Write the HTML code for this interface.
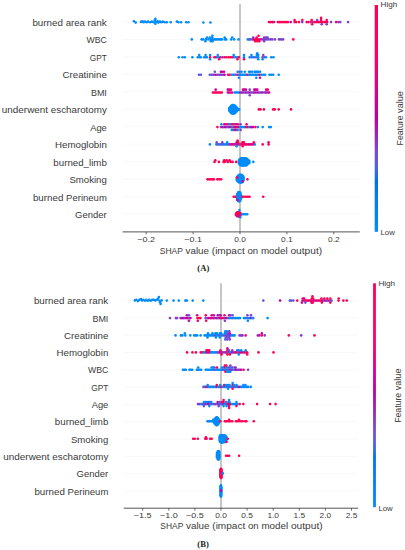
<!DOCTYPE html>
<html><head><meta charset="utf-8"><title>SHAP summary plots</title>
<style>
html,body{margin:0;padding:0;background:#fff;}
body{width:405px;height:550px;overflow:hidden;}
svg{display:block;font-family:"Liberation Sans",sans-serif;}
</style></head><body>
<svg width="405" height="550" viewBox="0 0 405 550">
<defs><linearGradient id="cbg" x1="0" y1="0" x2="0" y2="1"><stop offset="0.000" stop-color="#ff0051"/><stop offset="0.025" stop-color="#ff0053"/><stop offset="0.050" stop-color="#ff0056"/><stop offset="0.075" stop-color="#ff0058"/><stop offset="0.100" stop-color="#ff005a"/><stop offset="0.125" stop-color="#fe005c"/><stop offset="0.150" stop-color="#fd005f"/><stop offset="0.175" stop-color="#fc0061"/><stop offset="0.200" stop-color="#fb0063"/><stop offset="0.225" stop-color="#f90066"/><stop offset="0.250" stop-color="#f7006b"/><stop offset="0.275" stop-color="#f20071"/><stop offset="0.300" stop-color="#ec0078"/><stop offset="0.325" stop-color="#e6007f"/><stop offset="0.350" stop-color="#df0086"/><stop offset="0.375" stop-color="#d8008d"/><stop offset="0.400" stop-color="#d00092"/><stop offset="0.425" stop-color="#ca0097"/><stop offset="0.450" stop-color="#c4009a"/><stop offset="0.475" stop-color="#bd009e"/><stop offset="0.500" stop-color="#b703a2"/><stop offset="0.525" stop-color="#b00fa5"/><stop offset="0.550" stop-color="#a41caa"/><stop offset="0.575" stop-color="#9828b0"/><stop offset="0.600" stop-color="#9035bb"/><stop offset="0.625" stop-color="#8641c4"/><stop offset="0.650" stop-color="#7a4bce"/><stop offset="0.675" stop-color="#6d54d6"/><stop offset="0.700" stop-color="#5c5ddd"/><stop offset="0.725" stop-color="#4764e4"/><stop offset="0.750" stop-color="#2c6be9"/><stop offset="0.775" stop-color="#0070ed"/><stop offset="0.800" stop-color="#0074f0"/><stop offset="0.825" stop-color="#0077f2"/><stop offset="0.850" stop-color="#007bf4"/><stop offset="0.875" stop-color="#007df6"/><stop offset="0.900" stop-color="#0080f7"/><stop offset="0.925" stop-color="#0083f8"/><stop offset="0.950" stop-color="#0085f9"/><stop offset="0.975" stop-color="#0088fa"/><stop offset="1.000" stop-color="#008bfb"/></linearGradient></defs>
<rect width="405" height="550" fill="#fff"/>
<line x1="122.5" y1="22.00" x2="359.8" y2="22.00" stroke="#f3f3f3" stroke-width="0.6"/>
<line x1="122.5" y1="39.45" x2="359.8" y2="39.45" stroke="#f3f3f3" stroke-width="0.6"/>
<line x1="122.5" y1="56.90" x2="359.8" y2="56.90" stroke="#f3f3f3" stroke-width="0.6"/>
<line x1="122.5" y1="74.35" x2="359.8" y2="74.35" stroke="#f3f3f3" stroke-width="0.6"/>
<line x1="122.5" y1="91.80" x2="359.8" y2="91.80" stroke="#f3f3f3" stroke-width="0.6"/>
<line x1="122.5" y1="109.25" x2="359.8" y2="109.25" stroke="#f3f3f3" stroke-width="0.6"/>
<line x1="122.5" y1="126.70" x2="359.8" y2="126.70" stroke="#f3f3f3" stroke-width="0.6"/>
<line x1="122.5" y1="144.15" x2="359.8" y2="144.15" stroke="#f3f3f3" stroke-width="0.6"/>
<line x1="122.5" y1="161.60" x2="359.8" y2="161.60" stroke="#f3f3f3" stroke-width="0.6"/>
<line x1="122.5" y1="179.05" x2="359.8" y2="179.05" stroke="#f3f3f3" stroke-width="0.6"/>
<line x1="122.5" y1="196.50" x2="359.8" y2="196.50" stroke="#f3f3f3" stroke-width="0.6"/>
<line x1="122.5" y1="213.95" x2="359.8" y2="213.95" stroke="#f3f3f3" stroke-width="0.6"/>
<line x1="240.00" y1="4.00" x2="240.00" y2="231.90" stroke="#a0a0a0" stroke-width="1.2"/>
<g font-size="9.11" fill="#3a3a3a"><text x="32.42" y="26.00" textLength="30.49" lengthAdjust="spacingAndGlyphs">burned</text><text x="65.65" y="26.00" textLength="19.18" lengthAdjust="spacingAndGlyphs">area</text><text x="87.56" y="26.00" textLength="19.24" lengthAdjust="spacingAndGlyphs">rank</text></g>
<g font-size="9.11" fill="#3a3a3a"><text x="86.54" y="43.45" textLength="20.26" lengthAdjust="spacingAndGlyphs">WBC</text></g>
<g font-size="9.11" fill="#3a3a3a"><text x="89.70" y="60.90" textLength="17.10" lengthAdjust="spacingAndGlyphs">GPT</text></g>
<g font-size="9.11" fill="#3a3a3a"><text x="62.54" y="78.35" textLength="44.26" lengthAdjust="spacingAndGlyphs">Creatinine</text></g>
<g font-size="9.11" fill="#3a3a3a"><text x="90.94" y="95.80" textLength="15.86" lengthAdjust="spacingAndGlyphs">BMI</text></g>
<g font-size="9.11" fill="#3a3a3a"><text x="1.80" y="113.25" textLength="46.33" lengthAdjust="spacingAndGlyphs">underwent</text><text x="50.87" y="113.25" textLength="55.93" lengthAdjust="spacingAndGlyphs">escharotomy</text></g>
<g font-size="9.11" fill="#3a3a3a"><text x="90.17" y="130.70" textLength="16.63" lengthAdjust="spacingAndGlyphs">Age</text></g>
<g font-size="9.11" fill="#3a3a3a"><text x="54.99" y="148.15" textLength="51.81" lengthAdjust="spacingAndGlyphs">Hemoglobin</text></g>
<g font-size="9.11" fill="#3a3a3a"><text x="53.39" y="165.60" textLength="53.41" lengthAdjust="spacingAndGlyphs">burned_limb</text></g>
<g font-size="9.11" fill="#3a3a3a"><text x="69.42" y="183.05" textLength="37.38" lengthAdjust="spacingAndGlyphs">Smoking</text></g>
<g font-size="9.11" fill="#3a3a3a"><text x="32.91" y="200.50" textLength="30.49" lengthAdjust="spacingAndGlyphs">burned</text><text x="66.13" y="200.50" textLength="40.67" lengthAdjust="spacingAndGlyphs">Perineum</text></g>
<g font-size="9.11" fill="#3a3a3a"><text x="75.11" y="217.95" textLength="31.69" lengthAdjust="spacingAndGlyphs">Gender</text></g>
<line x1="122.50" y1="231.90" x2="359.80" y2="231.90" stroke="#555555" stroke-width="1"/>
<line x1="146.20" y1="231.90" x2="146.20" y2="234.30" stroke="#444444" stroke-width="0.8"/>
<g font-size="7.74" fill="#3a3a3a"><text x="137.34" y="241.80" textLength="17.73" lengthAdjust="spacingAndGlyphs">−0.2</text></g>
<line x1="193.10" y1="231.90" x2="193.10" y2="234.30" stroke="#444444" stroke-width="0.8"/>
<g font-size="7.74" fill="#3a3a3a"><text x="184.24" y="241.80" textLength="17.73" lengthAdjust="spacingAndGlyphs">−0.1</text></g>
<line x1="240.00" y1="231.90" x2="240.00" y2="234.30" stroke="#444444" stroke-width="0.8"/>
<g font-size="7.74" fill="#3a3a3a"><text x="234.20" y="241.80" textLength="11.61" lengthAdjust="spacingAndGlyphs">0.0</text></g>
<line x1="286.90" y1="231.90" x2="286.90" y2="234.30" stroke="#444444" stroke-width="0.8"/>
<g font-size="7.74" fill="#3a3a3a"><text x="281.10" y="241.80" textLength="11.61" lengthAdjust="spacingAndGlyphs">0.1</text></g>
<line x1="333.80" y1="231.90" x2="333.80" y2="234.30" stroke="#444444" stroke-width="0.8"/>
<g font-size="7.74" fill="#3a3a3a"><text x="328.00" y="241.80" textLength="11.61" lengthAdjust="spacingAndGlyphs">0.2</text></g>
<g font-size="9.11" fill="#3a3a3a"><text x="159.84" y="253.90" textLength="22.99" lengthAdjust="spacingAndGlyphs">SHAP</text><text x="185.57" y="253.90" textLength="23.49" lengthAdjust="spacingAndGlyphs">value</text><text x="211.79" y="253.90" textLength="32.95" lengthAdjust="spacingAndGlyphs">(impact</text><text x="247.48" y="253.90" textLength="10.71" lengthAdjust="spacingAndGlyphs">on</text><text x="260.93" y="253.90" textLength="26.78" lengthAdjust="spacingAndGlyphs">model</text><text x="290.44" y="253.90" textLength="31.72" lengthAdjust="spacingAndGlyphs">output)</text></g>
<text x="203.30" y="271.40" font-family="Liberation Serif" font-weight="bold" font-size="8.6" text-anchor="middle" fill="#222">(A)</text>
<rect x="374.70" y="5.00" width="3.30" height="226.80" fill="url(#cbg)"/>
<g font-size="7.74" fill="#3a3a3a"><text x="380.50" y="7.30" textLength="16.78" lengthAdjust="spacingAndGlyphs">High</text></g>
<g font-size="7.74" fill="#3a3a3a"><text x="380.50" y="235.30" textLength="14.38" lengthAdjust="spacingAndGlyphs">Low</text></g>
<g font-size="8.42" fill="#3a3a3a" transform="translate(403.30 118.30) rotate(-90)"><text x="-27.14" y="0.00" textLength="30.04" lengthAdjust="spacingAndGlyphs">Feature</text><text x="5.43" y="0.00" textLength="21.72" lengthAdjust="spacingAndGlyphs">value</text></g>
<line x1="123.7" y1="300.60" x2="358.1" y2="300.60" stroke="#f3f3f3" stroke-width="0.6"/>
<line x1="123.7" y1="317.90" x2="358.1" y2="317.90" stroke="#f3f3f3" stroke-width="0.6"/>
<line x1="123.7" y1="335.20" x2="358.1" y2="335.20" stroke="#f3f3f3" stroke-width="0.6"/>
<line x1="123.7" y1="352.50" x2="358.1" y2="352.50" stroke="#f3f3f3" stroke-width="0.6"/>
<line x1="123.7" y1="369.80" x2="358.1" y2="369.80" stroke="#f3f3f3" stroke-width="0.6"/>
<line x1="123.7" y1="387.10" x2="358.1" y2="387.10" stroke="#f3f3f3" stroke-width="0.6"/>
<line x1="123.7" y1="404.40" x2="358.1" y2="404.40" stroke="#f3f3f3" stroke-width="0.6"/>
<line x1="123.7" y1="421.70" x2="358.1" y2="421.70" stroke="#f3f3f3" stroke-width="0.6"/>
<line x1="123.7" y1="439.00" x2="358.1" y2="439.00" stroke="#f3f3f3" stroke-width="0.6"/>
<line x1="123.7" y1="456.30" x2="358.1" y2="456.30" stroke="#f3f3f3" stroke-width="0.6"/>
<line x1="123.7" y1="473.60" x2="358.1" y2="473.60" stroke="#f3f3f3" stroke-width="0.6"/>
<line x1="123.7" y1="490.90" x2="358.1" y2="490.90" stroke="#f3f3f3" stroke-width="0.6"/>
<line x1="221.00" y1="283.30" x2="221.00" y2="508.20" stroke="#a0a0a0" stroke-width="1.2"/>
<g font-size="9.11" fill="#3a3a3a"><text x="33.92" y="304.20" textLength="30.49" lengthAdjust="spacingAndGlyphs">burned</text><text x="67.15" y="304.20" textLength="19.18" lengthAdjust="spacingAndGlyphs">area</text><text x="89.06" y="304.20" textLength="19.24" lengthAdjust="spacingAndGlyphs">rank</text></g>
<g font-size="9.11" fill="#3a3a3a"><text x="92.44" y="321.50" textLength="15.86" lengthAdjust="spacingAndGlyphs">BMI</text></g>
<g font-size="9.11" fill="#3a3a3a"><text x="64.04" y="338.80" textLength="44.26" lengthAdjust="spacingAndGlyphs">Creatinine</text></g>
<g font-size="9.11" fill="#3a3a3a"><text x="56.49" y="356.10" textLength="51.81" lengthAdjust="spacingAndGlyphs">Hemoglobin</text></g>
<g font-size="9.11" fill="#3a3a3a"><text x="88.04" y="373.40" textLength="20.26" lengthAdjust="spacingAndGlyphs">WBC</text></g>
<g font-size="9.11" fill="#3a3a3a"><text x="91.20" y="390.70" textLength="17.10" lengthAdjust="spacingAndGlyphs">GPT</text></g>
<g font-size="9.11" fill="#3a3a3a"><text x="91.67" y="408.00" textLength="16.63" lengthAdjust="spacingAndGlyphs">Age</text></g>
<g font-size="9.11" fill="#3a3a3a"><text x="54.89" y="425.30" textLength="53.41" lengthAdjust="spacingAndGlyphs">burned_limb</text></g>
<g font-size="9.11" fill="#3a3a3a"><text x="70.92" y="442.60" textLength="37.38" lengthAdjust="spacingAndGlyphs">Smoking</text></g>
<g font-size="9.11" fill="#3a3a3a"><text x="3.30" y="459.90" textLength="46.33" lengthAdjust="spacingAndGlyphs">underwent</text><text x="52.37" y="459.90" textLength="55.93" lengthAdjust="spacingAndGlyphs">escharotomy</text></g>
<g font-size="9.11" fill="#3a3a3a"><text x="76.61" y="477.20" textLength="31.69" lengthAdjust="spacingAndGlyphs">Gender</text></g>
<g font-size="9.11" fill="#3a3a3a"><text x="34.41" y="494.50" textLength="30.49" lengthAdjust="spacingAndGlyphs">burned</text><text x="67.63" y="494.50" textLength="40.67" lengthAdjust="spacingAndGlyphs">Perineum</text></g>
<line x1="123.70" y1="508.20" x2="358.10" y2="508.20" stroke="#555555" stroke-width="1"/>
<line x1="142.70" y1="508.20" x2="142.70" y2="510.60" stroke="#444444" stroke-width="0.8"/>
<g font-size="7.74" fill="#3a3a3a"><text x="133.84" y="518.30" textLength="17.73" lengthAdjust="spacingAndGlyphs">−1.5</text></g>
<line x1="168.80" y1="508.20" x2="168.80" y2="510.60" stroke="#444444" stroke-width="0.8"/>
<g font-size="7.74" fill="#3a3a3a"><text x="159.94" y="518.30" textLength="17.73" lengthAdjust="spacingAndGlyphs">−1.0</text></g>
<line x1="194.90" y1="508.20" x2="194.90" y2="510.60" stroke="#444444" stroke-width="0.8"/>
<g font-size="7.74" fill="#3a3a3a"><text x="186.04" y="518.30" textLength="17.73" lengthAdjust="spacingAndGlyphs">−0.5</text></g>
<line x1="221.00" y1="508.20" x2="221.00" y2="510.60" stroke="#444444" stroke-width="0.8"/>
<g font-size="7.74" fill="#3a3a3a"><text x="215.20" y="518.30" textLength="11.61" lengthAdjust="spacingAndGlyphs">0.0</text></g>
<line x1="247.10" y1="508.20" x2="247.10" y2="510.60" stroke="#444444" stroke-width="0.8"/>
<g font-size="7.74" fill="#3a3a3a"><text x="241.30" y="518.30" textLength="11.61" lengthAdjust="spacingAndGlyphs">0.5</text></g>
<line x1="273.20" y1="508.20" x2="273.20" y2="510.60" stroke="#444444" stroke-width="0.8"/>
<g font-size="7.74" fill="#3a3a3a"><text x="267.40" y="518.30" textLength="11.61" lengthAdjust="spacingAndGlyphs">1.0</text></g>
<line x1="299.30" y1="508.20" x2="299.30" y2="510.60" stroke="#444444" stroke-width="0.8"/>
<g font-size="7.74" fill="#3a3a3a"><text x="293.50" y="518.30" textLength="11.61" lengthAdjust="spacingAndGlyphs">1.5</text></g>
<line x1="325.40" y1="508.20" x2="325.40" y2="510.60" stroke="#444444" stroke-width="0.8"/>
<g font-size="7.74" fill="#3a3a3a"><text x="319.60" y="518.30" textLength="11.61" lengthAdjust="spacingAndGlyphs">2.0</text></g>
<line x1="351.50" y1="508.20" x2="351.50" y2="510.60" stroke="#444444" stroke-width="0.8"/>
<g font-size="7.74" fill="#3a3a3a"><text x="345.70" y="518.30" textLength="11.61" lengthAdjust="spacingAndGlyphs">2.5</text></g>
<g font-size="9.11" fill="#3a3a3a"><text x="160.34" y="528.80" textLength="22.99" lengthAdjust="spacingAndGlyphs">SHAP</text><text x="186.07" y="528.80" textLength="23.49" lengthAdjust="spacingAndGlyphs">value</text><text x="212.29" y="528.80" textLength="32.95" lengthAdjust="spacingAndGlyphs">(impact</text><text x="247.98" y="528.80" textLength="10.71" lengthAdjust="spacingAndGlyphs">on</text><text x="261.43" y="528.80" textLength="26.78" lengthAdjust="spacingAndGlyphs">model</text><text x="290.94" y="528.80" textLength="31.72" lengthAdjust="spacingAndGlyphs">output)</text></g>
<text x="203.10" y="547.00" font-family="Liberation Serif" font-weight="bold" font-size="8.6" text-anchor="middle" fill="#222">(B)</text>
<rect x="373.10" y="283.30" width="2.80" height="223.90" fill="url(#cbg)"/>
<g font-size="7.74" fill="#3a3a3a"><text x="378.40" y="286.10" textLength="16.78" lengthAdjust="spacingAndGlyphs">High</text></g>
<g font-size="7.74" fill="#3a3a3a"><text x="378.40" y="510.70" textLength="14.38" lengthAdjust="spacingAndGlyphs">Low</text></g>
<g font-size="8.42" fill="#3a3a3a" transform="translate(401.30 395.70) rotate(-90)"><text x="-27.14" y="0.00" textLength="30.04" lengthAdjust="spacingAndGlyphs">Feature</text><text x="5.43" y="0.00" textLength="21.72" lengthAdjust="spacingAndGlyphs">value</text></g>
<g stroke-width="2.60" stroke-linecap="round"><line x1="229.30" y1="108.10" x2="229.30" y2="110.70" stroke="#008bfb"/><line x1="230.30" y1="106.70" x2="230.30" y2="112.10" stroke="#008bfb"/><line x1="231.30" y1="105.70" x2="231.30" y2="113.10" stroke="#008bfb"/><line x1="232.30" y1="105.10" x2="232.30" y2="113.70" stroke="#008bfb"/><line x1="233.30" y1="105.00" x2="233.30" y2="113.80" stroke="#008bfb"/><line x1="234.30" y1="105.40" x2="234.30" y2="113.40" stroke="#008bfb"/><line x1="235.30" y1="106.10" x2="235.30" y2="112.70" stroke="#008bfb"/><line x1="236.30" y1="107.10" x2="236.30" y2="111.70" stroke="#008bfb"/><line x1="237.20" y1="108.30" x2="237.20" y2="110.50" stroke="#008bfb"/><line x1="238.20" y1="109.10" x2="238.20" y2="109.70" stroke="#008bfb"/><line x1="239.00" y1="109.20" x2="239.00" y2="109.60" stroke="#008bfb"/><line x1="239.00" y1="160.40" x2="239.00" y2="163.40" stroke="#008bfb"/><line x1="239.80" y1="159.20" x2="239.80" y2="164.60" stroke="#008bfb"/><line x1="240.60" y1="158.60" x2="240.60" y2="165.20" stroke="#008bfb"/><line x1="241.50" y1="158.40" x2="241.50" y2="165.40" stroke="#008bfb"/><line x1="242.50" y1="158.30" x2="242.50" y2="165.50" stroke="#008bfb"/><line x1="243.50" y1="158.30" x2="243.50" y2="165.50" stroke="#008bfb"/><line x1="244.50" y1="158.30" x2="244.50" y2="165.50" stroke="#008bfb"/><line x1="245.50" y1="158.40" x2="245.50" y2="165.40" stroke="#008bfb"/><line x1="246.50" y1="158.60" x2="246.50" y2="165.20" stroke="#008bfb"/><line x1="247.40" y1="159.20" x2="247.40" y2="164.60" stroke="#008bfb"/><line x1="248.30" y1="160.30" x2="248.30" y2="163.50" stroke="#008bfb"/><line x1="249.30" y1="160.80" x2="249.30" y2="163.00" stroke="#008bfb"/><line x1="236.80" y1="177.40" x2="236.80" y2="180.00" stroke="#008bfb"/><line x1="237.60" y1="176.20" x2="237.60" y2="181.20" stroke="#008bfb"/><line x1="238.50" y1="175.40" x2="238.50" y2="182.00" stroke="#008bfb"/><line x1="239.40" y1="174.90" x2="239.40" y2="182.50" stroke="#008bfb"/><line x1="240.30" y1="174.80" x2="240.30" y2="182.60" stroke="#008bfb"/><line x1="241.20" y1="174.90" x2="241.20" y2="182.50" stroke="#008bfb"/><line x1="242.10" y1="175.20" x2="242.10" y2="182.20" stroke="#008bfb"/><line x1="242.90" y1="176.00" x2="242.90" y2="181.40" stroke="#008bfb"/><line x1="243.50" y1="177.20" x2="243.50" y2="180.20" stroke="#008bfb"/><line x1="237.20" y1="194.00" x2="237.20" y2="199.40" stroke="#008bfb"/><line x1="238.20" y1="192.40" x2="238.20" y2="201.00" stroke="#008bfb"/><line x1="239.20" y1="192.00" x2="239.20" y2="201.40" stroke="#008bfb"/><line x1="240.30" y1="192.60" x2="240.30" y2="200.80" stroke="#008bfb"/><line x1="241.00" y1="195.00" x2="241.00" y2="198.40" stroke="#008bfb"/><line x1="236.00" y1="213.60" x2="236.00" y2="215.00" stroke="#ff0055"/><line x1="236.90" y1="212.60" x2="236.90" y2="216.00" stroke="#ff0055"/><line x1="237.80" y1="212.40" x2="237.80" y2="216.20" stroke="#ff0055"/><line x1="238.70" y1="212.20" x2="238.70" y2="216.40" stroke="#ff0055"/><line x1="239.60" y1="212.60" x2="239.60" y2="216.00" stroke="#ff0055"/><line x1="240.40" y1="213.20" x2="240.40" y2="215.40" stroke="#ff0055"/><line x1="213.80" y1="420.40" x2="213.80" y2="422.20" stroke="#008bfb"/><line x1="214.60" y1="419.40" x2="214.60" y2="423.20" stroke="#008bfb"/><line x1="215.40" y1="418.40" x2="215.40" y2="424.20" stroke="#008bfb"/><line x1="216.20" y1="417.60" x2="216.20" y2="425.00" stroke="#008bfb"/><line x1="217.00" y1="417.30" x2="217.00" y2="425.30" stroke="#008bfb"/><line x1="217.80" y1="418.00" x2="217.80" y2="424.60" stroke="#008bfb"/><line x1="218.60" y1="419.20" x2="218.60" y2="423.40" stroke="#008bfb"/><line x1="219.30" y1="420.60" x2="219.30" y2="422.00" stroke="#008bfb"/><line x1="219.60" y1="436.60" x2="219.60" y2="440.80" stroke="#008bfb"/><line x1="220.30" y1="435.40" x2="220.30" y2="442.00" stroke="#008bfb"/><line x1="221.10" y1="435.00" x2="221.10" y2="442.40" stroke="#008bfb"/><line x1="222.00" y1="435.00" x2="222.00" y2="442.40" stroke="#008bfb"/><line x1="223.00" y1="435.20" x2="223.00" y2="442.20" stroke="#008bfb"/><line x1="224.00" y1="435.30" x2="224.00" y2="442.10" stroke="#008bfb"/><line x1="225.00" y1="435.50" x2="225.00" y2="441.90" stroke="#008bfb"/><line x1="225.80" y1="436.20" x2="225.80" y2="441.20" stroke="#008bfb"/><line x1="226.30" y1="437.20" x2="226.30" y2="440.20" stroke="#008bfb"/><line x1="217.00" y1="453.10" x2="217.00" y2="457.50" stroke="#008bfb"/><line x1="217.80" y1="451.30" x2="217.80" y2="459.30" stroke="#008bfb"/><line x1="218.60" y1="451.00" x2="218.60" y2="459.60" stroke="#008bfb"/><line x1="219.40" y1="452.00" x2="219.40" y2="458.60" stroke="#008bfb"/><line x1="220.40" y1="469.70" x2="220.40" y2="477.10" stroke="#ff0055"/><line x1="221.00" y1="468.70" x2="221.00" y2="478.10" stroke="#ff0055"/><line x1="221.50" y1="469.50" x2="221.50" y2="477.30" stroke="#ff0055"/><line x1="220.50" y1="486.20" x2="220.50" y2="495.60" stroke="#008bfb"/><line x1="221.00" y1="485.20" x2="221.00" y2="496.60" stroke="#008bfb"/><line x1="221.30" y1="487.20" x2="221.30" y2="494.60" stroke="#008bfb"/></g>
<g><circle cx="133.90" cy="21.20" r="1.30" fill="#008bfb"/><circle cx="135.70" cy="22.60" r="1.30" fill="#008bfb"/><circle cx="141.00" cy="21.90" r="1.30" fill="#008bfb"/><circle cx="142.50" cy="21.20" r="1.30" fill="#008bfb"/><circle cx="143.60" cy="22.20" r="1.30" fill="#008bfb"/><circle cx="145.00" cy="21.60" r="1.30" fill="#008bfb"/><circle cx="146.50" cy="22.20" r="1.30" fill="#008bfb"/><circle cx="148.00" cy="21.60" r="1.30" fill="#008bfb"/><circle cx="150.20" cy="22.20" r="1.30" fill="#008bfb"/><circle cx="151.70" cy="21.60" r="1.30" fill="#008bfb"/><circle cx="153.50" cy="22.20" r="1.30" fill="#008bfb"/><circle cx="154.70" cy="20.40" r="1.30" fill="#008bfb"/><circle cx="155.40" cy="18.90" r="1.30" fill="#008bfb"/><circle cx="155.40" cy="23.70" r="1.30" fill="#008bfb"/><circle cx="156.10" cy="21.90" r="1.30" fill="#008bfb"/><circle cx="157.60" cy="21.20" r="1.30" fill="#008bfb"/><circle cx="158.40" cy="22.60" r="1.30" fill="#008bfb"/><circle cx="159.90" cy="21.60" r="1.30" fill="#008bfb"/><circle cx="161.30" cy="22.20" r="1.30" fill="#008bfb"/><circle cx="162.80" cy="21.60" r="1.30" fill="#008bfb"/><circle cx="164.70" cy="22.20" r="1.30" fill="#008bfb"/><circle cx="166.80" cy="22.20" r="1.30" fill="#008bfb"/><circle cx="170.70" cy="22.20" r="1.30" fill="#008bfb"/><circle cx="176.90" cy="21.60" r="1.30" fill="#008bfb"/><circle cx="178.40" cy="22.20" r="1.30" fill="#008bfb"/><circle cx="181.10" cy="22.20" r="1.30" fill="#008bfb"/><circle cx="186.20" cy="22.20" r="1.30" fill="#008bfb"/><circle cx="188.40" cy="22.20" r="1.30" fill="#008bfb"/><circle cx="203.40" cy="22.50" r="1.30" fill="#008bfb"/><circle cx="210.40" cy="22.50" r="1.30" fill="#008bfb"/><circle cx="269.00" cy="22.10" r="1.30" fill="#ff0055"/><circle cx="270.70" cy="22.10" r="1.30" fill="#ff0055"/><circle cx="272.30" cy="22.10" r="1.30" fill="#cc009c"/><circle cx="274.00" cy="22.10" r="1.30" fill="#ff0055"/><circle cx="277.90" cy="22.10" r="1.30" fill="#ff0055"/><circle cx="279.60" cy="22.10" r="1.30" fill="#ff0055"/><circle cx="281.20" cy="22.10" r="1.30" fill="#ff0055"/><circle cx="282.90" cy="22.10" r="1.30" fill="#ff0055"/><circle cx="284.60" cy="22.10" r="1.30" fill="#ff0055"/><circle cx="286.20" cy="22.10" r="1.30" fill="#ff0055"/><circle cx="287.90" cy="22.10" r="1.30" fill="#ff0055"/><circle cx="290.70" cy="22.10" r="1.30" fill="#cc009c"/><circle cx="294.60" cy="22.10" r="1.30" fill="#ff0055"/><circle cx="296.20" cy="22.10" r="1.30" fill="#ff0055"/><circle cx="299.00" cy="22.10" r="1.30" fill="#ff0055"/><circle cx="302.30" cy="22.10" r="1.30" fill="#7e3cd0"/><circle cx="306.70" cy="22.10" r="1.30" fill="#ff0055"/><circle cx="308.30" cy="22.10" r="1.30" fill="#ff0055"/><circle cx="310.60" cy="22.10" r="1.30" fill="#ff0055"/><circle cx="312.60" cy="22.10" r="1.30" fill="#7e3cd0"/><circle cx="314.40" cy="22.10" r="1.30" fill="#ff0055"/><circle cx="316.10" cy="22.10" r="1.30" fill="#ff0055"/><circle cx="317.80" cy="22.10" r="1.30" fill="#ff0055"/><circle cx="319.40" cy="22.10" r="1.30" fill="#ff0055"/><circle cx="321.10" cy="22.10" r="1.30" fill="#ff0055"/><circle cx="322.80" cy="22.10" r="1.30" fill="#ff0055"/><circle cx="324.40" cy="22.10" r="1.30" fill="#ff0055"/><circle cx="326.10" cy="22.10" r="1.30" fill="#ff0055"/><circle cx="327.20" cy="22.10" r="1.30" fill="#ff0055"/><circle cx="331.10" cy="22.10" r="1.30" fill="#7e3cd0"/><circle cx="336.10" cy="22.10" r="1.30" fill="#ff0055"/><circle cx="338.30" cy="22.10" r="1.30" fill="#7e3cd0"/><circle cx="340.30" cy="22.10" r="1.30" fill="#7e3cd0"/><circle cx="348.10" cy="22.10" r="1.30" fill="#7e3cd0"/><circle cx="294.60" cy="20.00" r="1.30" fill="#ff0055"/><circle cx="302.30" cy="20.00" r="1.30" fill="#ff0055"/><circle cx="311.70" cy="20.00" r="1.30" fill="#ff0055"/><circle cx="317.20" cy="20.00" r="1.30" fill="#7e3cd0"/><circle cx="321.10" cy="20.00" r="1.30" fill="#ff0055"/><circle cx="326.70" cy="20.00" r="1.30" fill="#ff0055"/><circle cx="321.10" cy="17.90" r="1.30" fill="#ff0055"/><circle cx="312.20" cy="24.20" r="1.30" fill="#ff0055"/><circle cx="321.70" cy="24.20" r="1.30" fill="#7e3cd0"/><circle cx="326.70" cy="24.20" r="1.30" fill="#7e3cd0"/><circle cx="191.80" cy="39.40" r="1.30" fill="#008bfb"/><circle cx="201.60" cy="39.40" r="1.30" fill="#008bfb"/><circle cx="203.20" cy="39.40" r="1.30" fill="#008bfb"/><circle cx="205.90" cy="39.40" r="1.30" fill="#008bfb"/><circle cx="208.40" cy="39.40" r="1.30" fill="#008bfb"/><circle cx="210.90" cy="39.40" r="1.30" fill="#008bfb"/><circle cx="212.40" cy="39.40" r="1.30" fill="#008bfb"/><circle cx="214.50" cy="39.40" r="1.30" fill="#008bfb"/><circle cx="215.90" cy="39.40" r="1.30" fill="#008bfb"/><circle cx="217.20" cy="39.40" r="1.30" fill="#008bfb"/><circle cx="219.00" cy="39.40" r="1.30" fill="#008bfb"/><circle cx="220.60" cy="39.40" r="1.30" fill="#008bfb"/><circle cx="222.00" cy="39.40" r="1.30" fill="#008bfb"/><circle cx="224.90" cy="39.40" r="1.30" fill="#008bfb"/><circle cx="226.20" cy="39.40" r="1.30" fill="#008bfb"/><circle cx="231.20" cy="39.40" r="1.30" fill="#008bfb"/><circle cx="234.20" cy="39.40" r="1.30" fill="#008bfb"/><circle cx="238.50" cy="39.40" r="1.30" fill="#008bfb"/><circle cx="247.80" cy="39.40" r="1.30" fill="#008bfb"/><circle cx="249.10" cy="39.40" r="1.30" fill="#3370ea"/><circle cx="250.50" cy="39.40" r="1.30" fill="#5f56dc"/><circle cx="252.50" cy="39.40" r="1.30" fill="#7e3cd0"/><circle cx="253.90" cy="39.40" r="1.30" fill="#ff0055"/><circle cx="255.90" cy="39.40" r="1.30" fill="#ff0055"/><circle cx="257.90" cy="39.40" r="1.30" fill="#ff0055"/><circle cx="260.00" cy="39.40" r="1.30" fill="#ff0055"/><circle cx="262.00" cy="39.40" r="1.30" fill="#7e3cd0"/><circle cx="264.10" cy="39.40" r="1.30" fill="#7e3cd0"/><circle cx="266.10" cy="39.40" r="1.30" fill="#7e3cd0"/><circle cx="268.10" cy="39.40" r="1.30" fill="#5f56dc"/><circle cx="270.20" cy="39.40" r="1.30" fill="#7e3cd0"/><circle cx="272.20" cy="39.40" r="1.30" fill="#7e3cd0"/><circle cx="274.90" cy="39.40" r="1.30" fill="#7e3cd0"/><circle cx="279.00" cy="39.40" r="1.30" fill="#7e3cd0"/><circle cx="281.00" cy="39.40" r="1.30" fill="#7e3cd0"/><circle cx="283.10" cy="39.40" r="1.30" fill="#7e3cd0"/><circle cx="293.30" cy="39.40" r="1.30" fill="#ff0055"/><circle cx="206.90" cy="37.57" r="1.30" fill="#008bfb"/><circle cx="209.70" cy="37.57" r="1.30" fill="#008bfb"/><circle cx="212.30" cy="37.57" r="1.30" fill="#008bfb"/><circle cx="224.70" cy="37.57" r="1.30" fill="#008bfb"/><circle cx="232.20" cy="37.57" r="1.30" fill="#008bfb"/><circle cx="253.20" cy="37.57" r="1.30" fill="#7e3cd0"/><circle cx="256.60" cy="37.57" r="1.30" fill="#ff0055"/><circle cx="264.10" cy="37.57" r="1.30" fill="#7e3cd0"/><circle cx="266.10" cy="37.57" r="1.30" fill="#7e3cd0"/><circle cx="267.50" cy="37.57" r="1.30" fill="#7e3cd0"/><circle cx="212.30" cy="35.75" r="1.30" fill="#008bfb"/><circle cx="258.60" cy="35.75" r="1.30" fill="#ff0055"/><circle cx="205.40" cy="41.14" r="1.30" fill="#008bfb"/><circle cx="210.80" cy="41.14" r="1.30" fill="#008bfb"/><circle cx="212.60" cy="41.14" r="1.30" fill="#008bfb"/><circle cx="255.20" cy="41.14" r="1.30" fill="#ff0055"/><circle cx="257.30" cy="41.14" r="1.30" fill="#ff0055"/><circle cx="259.30" cy="41.14" r="1.30" fill="#ff0055"/><circle cx="264.10" cy="41.14" r="1.30" fill="#7e3cd0"/><circle cx="178.80" cy="57.20" r="1.30" fill="#008bfb"/><circle cx="182.50" cy="57.20" r="1.30" fill="#008bfb"/><circle cx="184.80" cy="57.20" r="1.30" fill="#008bfb"/><circle cx="192.40" cy="57.20" r="1.30" fill="#008bfb"/><circle cx="197.80" cy="57.20" r="1.30" fill="#008bfb"/><circle cx="199.50" cy="57.20" r="1.30" fill="#008bfb"/><circle cx="200.80" cy="57.20" r="1.30" fill="#008bfb"/><circle cx="204.20" cy="57.20" r="1.30" fill="#008bfb"/><circle cx="205.60" cy="57.20" r="1.30" fill="#008bfb"/><circle cx="206.90" cy="57.20" r="1.30" fill="#008bfb"/><circle cx="210.10" cy="57.20" r="1.30" fill="#ff0055"/><circle cx="214.40" cy="57.20" r="1.30" fill="#ff0055"/><circle cx="215.80" cy="57.20" r="1.30" fill="#ff0055"/><circle cx="217.10" cy="57.20" r="1.30" fill="#008bfb"/><circle cx="218.50" cy="57.20" r="1.30" fill="#008bfb"/><circle cx="220.50" cy="57.20" r="1.30" fill="#ff0055"/><circle cx="222.60" cy="57.20" r="1.30" fill="#7e3cd0"/><circle cx="224.60" cy="57.20" r="1.30" fill="#ff0055"/><circle cx="226.60" cy="57.20" r="1.30" fill="#ff0055"/><circle cx="228.70" cy="57.20" r="1.30" fill="#ff0055"/><circle cx="230.40" cy="57.20" r="1.30" fill="#ff0055"/><circle cx="232.10" cy="57.20" r="1.30" fill="#ff0055"/><circle cx="233.70" cy="57.20" r="1.30" fill="#7e3cd0"/><circle cx="235.50" cy="57.20" r="1.30" fill="#008bfb"/><circle cx="237.20" cy="57.20" r="1.30" fill="#008bfb"/><circle cx="238.90" cy="57.20" r="1.30" fill="#ff0055"/><circle cx="244.00" cy="57.20" r="1.30" fill="#008bfb"/><circle cx="249.70" cy="57.20" r="1.30" fill="#008bfb"/><circle cx="251.40" cy="57.20" r="1.30" fill="#5f56dc"/><circle cx="253.10" cy="57.20" r="1.30" fill="#008bfb"/><circle cx="254.90" cy="57.20" r="1.30" fill="#5f56dc"/><circle cx="256.80" cy="57.20" r="1.30" fill="#008bfb"/><circle cx="258.20" cy="57.20" r="1.30" fill="#008bfb"/><circle cx="262.60" cy="57.20" r="1.30" fill="#7e3cd0"/><circle cx="264.40" cy="57.20" r="1.30" fill="#5f56dc"/><circle cx="266.00" cy="57.20" r="1.30" fill="#008bfb"/><circle cx="271.20" cy="57.20" r="1.30" fill="#008bfb"/><circle cx="273.50" cy="57.20" r="1.30" fill="#008bfb"/><circle cx="199.20" cy="55.11" r="1.30" fill="#008bfb"/><circle cx="205.60" cy="55.11" r="1.30" fill="#008bfb"/><circle cx="210.10" cy="55.11" r="1.30" fill="#008bfb"/><circle cx="217.80" cy="55.11" r="1.30" fill="#008bfb"/><circle cx="233.70" cy="55.11" r="1.30" fill="#008bfb"/><circle cx="244.00" cy="55.11" r="1.30" fill="#008bfb"/><circle cx="251.40" cy="55.11" r="1.30" fill="#008bfb"/><circle cx="256.80" cy="55.11" r="1.30" fill="#008bfb"/><circle cx="258.20" cy="55.11" r="1.30" fill="#008bfb"/><circle cx="263.30" cy="55.11" r="1.30" fill="#7e3cd0"/><circle cx="257.20" cy="53.28" r="1.30" fill="#008bfb"/><circle cx="210.10" cy="59.29" r="1.30" fill="#008bfb"/><circle cx="219.20" cy="59.29" r="1.30" fill="#ff0055"/><circle cx="237.50" cy="59.29" r="1.30" fill="#ff0055"/><circle cx="244.00" cy="59.29" r="1.30" fill="#ff0055"/><circle cx="258.20" cy="59.29" r="1.30" fill="#008bfb"/><circle cx="262.60" cy="59.29" r="1.30" fill="#008bfb"/><circle cx="199.00" cy="74.80" r="1.30" fill="#5f56dc"/><circle cx="200.90" cy="74.80" r="1.30" fill="#5f56dc"/><circle cx="209.80" cy="74.80" r="1.30" fill="#5f56dc"/><circle cx="211.70" cy="74.80" r="1.30" fill="#7e3cd0"/><circle cx="213.50" cy="74.80" r="1.30" fill="#7e3cd0"/><circle cx="215.40" cy="74.80" r="1.30" fill="#cc009c"/><circle cx="217.20" cy="74.80" r="1.30" fill="#7e3cd0"/><circle cx="219.10" cy="74.80" r="1.30" fill="#7e3cd0"/><circle cx="220.90" cy="74.80" r="1.30" fill="#7e3cd0"/><circle cx="222.80" cy="74.80" r="1.30" fill="#7e3cd0"/><circle cx="224.60" cy="74.80" r="1.30" fill="#cc009c"/><circle cx="228.10" cy="74.80" r="1.30" fill="#ff0055"/><circle cx="229.80" cy="74.80" r="1.30" fill="#ff0055"/><circle cx="232.00" cy="74.80" r="1.30" fill="#008bfb"/><circle cx="233.90" cy="74.80" r="1.30" fill="#008bfb"/><circle cx="235.70" cy="74.80" r="1.30" fill="#5f56dc"/><circle cx="237.60" cy="74.80" r="1.30" fill="#ff0055"/><circle cx="238.70" cy="74.80" r="1.30" fill="#5f56dc"/><circle cx="239.90" cy="74.80" r="1.30" fill="#008bfb"/><circle cx="241.10" cy="74.80" r="1.30" fill="#008bfb"/><circle cx="242.30" cy="74.80" r="1.30" fill="#008bfb"/><circle cx="243.60" cy="74.80" r="1.30" fill="#008bfb"/><circle cx="244.80" cy="74.80" r="1.30" fill="#008bfb"/><circle cx="246.00" cy="74.80" r="1.30" fill="#008bfb"/><circle cx="247.60" cy="74.80" r="1.30" fill="#ff0055"/><circle cx="249.10" cy="74.80" r="1.30" fill="#008bfb"/><circle cx="250.30" cy="74.80" r="1.30" fill="#008bfb"/><circle cx="251.60" cy="74.80" r="1.30" fill="#008bfb"/><circle cx="252.80" cy="74.80" r="1.30" fill="#008bfb"/><circle cx="254.00" cy="74.80" r="1.30" fill="#008bfb"/><circle cx="255.30" cy="74.80" r="1.30" fill="#008bfb"/><circle cx="256.50" cy="74.80" r="1.30" fill="#008bfb"/><circle cx="258.00" cy="74.80" r="1.30" fill="#008bfb"/><circle cx="259.60" cy="74.80" r="1.30" fill="#ff0055"/><circle cx="261.50" cy="74.80" r="1.30" fill="#008bfb"/><circle cx="263.30" cy="74.80" r="1.30" fill="#008bfb"/><circle cx="265.20" cy="74.80" r="1.30" fill="#008bfb"/><circle cx="269.50" cy="74.80" r="1.30" fill="#008bfb"/><circle cx="271.30" cy="74.80" r="1.30" fill="#008bfb"/><circle cx="273.20" cy="74.80" r="1.30" fill="#008bfb"/><circle cx="278.70" cy="74.80" r="1.30" fill="#008bfb"/><circle cx="214.80" cy="71.80" r="1.30" fill="#5f56dc"/><circle cx="220.90" cy="71.80" r="1.30" fill="#cc009c"/><circle cx="222.20" cy="71.80" r="1.30" fill="#cc009c"/><circle cx="224.00" cy="71.80" r="1.30" fill="#cc009c"/><circle cx="237.60" cy="71.80" r="1.30" fill="#008bfb"/><circle cx="239.50" cy="71.80" r="1.30" fill="#5f56dc"/><circle cx="241.50" cy="71.80" r="1.30" fill="#008bfb"/><circle cx="244.80" cy="71.80" r="1.30" fill="#008bfb"/><circle cx="249.10" cy="71.80" r="1.30" fill="#008bfb"/><circle cx="250.30" cy="71.80" r="1.30" fill="#008bfb"/><circle cx="252.20" cy="71.80" r="1.30" fill="#008bfb"/><circle cx="254.70" cy="71.80" r="1.30" fill="#008bfb"/><circle cx="255.90" cy="71.80" r="1.30" fill="#008bfb"/><circle cx="257.10" cy="71.80" r="1.30" fill="#008bfb"/><circle cx="258.40" cy="71.80" r="1.30" fill="#008bfb"/><circle cx="260.00" cy="71.80" r="1.30" fill="#008bfb"/><circle cx="238.90" cy="77.80" r="1.30" fill="#008bfb"/><circle cx="256.30" cy="77.80" r="1.30" fill="#008bfb"/><circle cx="260.00" cy="77.80" r="1.30" fill="#cc009c"/><circle cx="212.90" cy="92.50" r="1.30" fill="#ff0055"/><circle cx="214.40" cy="92.50" r="1.30" fill="#ff0055"/><circle cx="215.90" cy="92.50" r="1.30" fill="#ff0055"/><circle cx="217.40" cy="92.50" r="1.30" fill="#ff0055"/><circle cx="218.90" cy="92.50" r="1.30" fill="#ff0055"/><circle cx="220.30" cy="92.50" r="1.30" fill="#ff0055"/><circle cx="221.80" cy="92.50" r="1.30" fill="#ff0055"/><circle cx="227.80" cy="92.50" r="1.30" fill="#cc009c"/><circle cx="229.20" cy="92.50" r="1.30" fill="#cc009c"/><circle cx="230.70" cy="92.50" r="1.30" fill="#ff0055"/><circle cx="232.20" cy="92.50" r="1.30" fill="#cc009c"/><circle cx="234.70" cy="92.50" r="1.30" fill="#008bfb"/><circle cx="236.10" cy="92.50" r="1.30" fill="#008bfb"/><circle cx="237.60" cy="92.50" r="1.30" fill="#008bfb"/><circle cx="239.10" cy="92.50" r="1.30" fill="#008bfb"/><circle cx="240.50" cy="92.50" r="1.30" fill="#cc009c"/><circle cx="242.00" cy="92.50" r="1.30" fill="#7e3cd0"/><circle cx="243.50" cy="92.50" r="1.30" fill="#cc009c"/><circle cx="244.90" cy="92.50" r="1.30" fill="#3370ea"/><circle cx="246.40" cy="92.50" r="1.30" fill="#cc009c"/><circle cx="247.90" cy="92.50" r="1.30" fill="#7e3cd0"/><circle cx="249.40" cy="92.50" r="1.30" fill="#cc009c"/><circle cx="250.90" cy="92.50" r="1.30" fill="#7e3cd0"/><circle cx="252.30" cy="92.50" r="1.30" fill="#3370ea"/><circle cx="253.80" cy="92.50" r="1.30" fill="#cc009c"/><circle cx="255.30" cy="92.50" r="1.30" fill="#cc009c"/><circle cx="256.80" cy="92.50" r="1.30" fill="#7e3cd0"/><circle cx="258.30" cy="92.50" r="1.30" fill="#cc009c"/><circle cx="259.80" cy="92.50" r="1.30" fill="#7e3cd0"/><circle cx="261.20" cy="92.50" r="1.30" fill="#5f56dc"/><circle cx="262.70" cy="92.50" r="1.30" fill="#cc009c"/><circle cx="264.70" cy="92.50" r="1.30" fill="#7e3cd0"/><circle cx="266.20" cy="92.50" r="1.30" fill="#cc009c"/><circle cx="267.70" cy="92.50" r="1.30" fill="#7e3cd0"/><circle cx="269.10" cy="92.50" r="1.30" fill="#cc009c"/><circle cx="215.70" cy="89.63" r="1.30" fill="#cc009c"/><circle cx="227.80" cy="89.63" r="1.30" fill="#cc009c"/><circle cx="229.20" cy="89.63" r="1.30" fill="#cc009c"/><circle cx="230.90" cy="89.63" r="1.30" fill="#ff0055"/><circle cx="243.00" cy="89.63" r="1.30" fill="#cc009c"/><circle cx="244.40" cy="89.63" r="1.30" fill="#cc009c"/><circle cx="245.90" cy="89.63" r="1.30" fill="#cc009c"/><circle cx="249.70" cy="89.63" r="1.30" fill="#7e3cd0"/><circle cx="254.30" cy="89.63" r="1.30" fill="#cc009c"/><circle cx="255.80" cy="89.63" r="1.30" fill="#cc009c"/><circle cx="257.30" cy="89.63" r="1.30" fill="#cc009c"/><circle cx="266.20" cy="89.63" r="1.30" fill="#cc009c"/><circle cx="267.70" cy="89.63" r="1.30" fill="#ff0055"/><circle cx="249.70" cy="95.28" r="1.30" fill="#7e3cd0"/><circle cx="258.80" cy="109.40" r="1.30" fill="#ff0055"/><circle cx="260.50" cy="109.40" r="1.30" fill="#ff0055"/><circle cx="263.90" cy="109.40" r="1.30" fill="#ff0055"/><circle cx="273.20" cy="109.40" r="1.30" fill="#ff0055"/><circle cx="274.80" cy="109.40" r="1.30" fill="#ff0055"/><circle cx="278.70" cy="109.40" r="1.30" fill="#ff0055"/><circle cx="291.00" cy="109.40" r="1.30" fill="#ff0055"/><circle cx="221.40" cy="124.23" r="1.30" fill="#008bfb"/><circle cx="224.30" cy="124.23" r="1.30" fill="#ff0055"/><circle cx="225.80" cy="124.23" r="1.30" fill="#cc009c"/><circle cx="227.30" cy="124.23" r="1.30" fill="#ff0055"/><circle cx="228.80" cy="124.23" r="1.30" fill="#7e3cd0"/><circle cx="230.30" cy="124.23" r="1.30" fill="#008bfb"/><circle cx="231.80" cy="124.23" r="1.30" fill="#ff0055"/><circle cx="233.20" cy="124.23" r="1.30" fill="#ff0055"/><circle cx="234.70" cy="124.23" r="1.30" fill="#7e3cd0"/><circle cx="236.20" cy="124.23" r="1.30" fill="#cc009c"/><circle cx="237.90" cy="124.23" r="1.30" fill="#ff0055"/><circle cx="240.60" cy="124.23" r="1.30" fill="#7e3cd0"/><circle cx="246.60" cy="124.23" r="1.30" fill="#ff0055"/><circle cx="217.40" cy="127.10" r="1.30" fill="#ff0055"/><circle cx="220.90" cy="127.10" r="1.30" fill="#7e3cd0"/><circle cx="222.40" cy="127.10" r="1.30" fill="#cc009c"/><circle cx="223.90" cy="127.10" r="1.30" fill="#7e3cd0"/><circle cx="225.30" cy="127.10" r="1.30" fill="#cc009c"/><circle cx="226.80" cy="127.10" r="1.30" fill="#7e3cd0"/><circle cx="228.30" cy="127.10" r="1.30" fill="#7e3cd0"/><circle cx="229.80" cy="127.10" r="1.30" fill="#cc009c"/><circle cx="231.30" cy="127.10" r="1.30" fill="#7e3cd0"/><circle cx="232.70" cy="127.10" r="1.30" fill="#008bfb"/><circle cx="234.20" cy="127.10" r="1.30" fill="#ff0055"/><circle cx="235.70" cy="127.10" r="1.30" fill="#cc009c"/><circle cx="237.20" cy="127.10" r="1.30" fill="#ff0055"/><circle cx="238.70" cy="127.10" r="1.30" fill="#cc009c"/><circle cx="240.10" cy="127.10" r="1.30" fill="#008bfb"/><circle cx="241.60" cy="127.10" r="1.30" fill="#008bfb"/><circle cx="243.10" cy="127.10" r="1.30" fill="#008bfb"/><circle cx="244.60" cy="127.10" r="1.30" fill="#008bfb"/><circle cx="246.10" cy="127.10" r="1.30" fill="#ff0055"/><circle cx="247.60" cy="127.10" r="1.30" fill="#ff0055"/><circle cx="249.00" cy="127.10" r="1.30" fill="#008bfb"/><circle cx="250.50" cy="127.10" r="1.30" fill="#7e3cd0"/><circle cx="251.70" cy="127.10" r="1.30" fill="#cc009c"/><circle cx="253.00" cy="127.10" r="1.30" fill="#cc009c"/><circle cx="255.40" cy="127.10" r="1.30" fill="#ff0055"/><circle cx="257.90" cy="127.10" r="1.30" fill="#008bfb"/><circle cx="262.70" cy="127.10" r="1.30" fill="#008bfb"/><circle cx="269.20" cy="127.10" r="1.30" fill="#008bfb"/><circle cx="270.80" cy="127.10" r="1.30" fill="#008bfb"/><circle cx="231.80" cy="129.88" r="1.30" fill="#008bfb"/><circle cx="233.20" cy="129.88" r="1.30" fill="#008bfb"/><circle cx="234.70" cy="129.88" r="1.30" fill="#ff0055"/><circle cx="236.20" cy="129.88" r="1.30" fill="#cc009c"/><circle cx="237.70" cy="129.88" r="1.30" fill="#008bfb"/><circle cx="240.60" cy="129.88" r="1.30" fill="#7e3cd0"/><circle cx="209.90" cy="144.40" r="1.30" fill="#008bfb"/><circle cx="216.40" cy="144.40" r="1.30" fill="#008bfb"/><circle cx="217.80" cy="144.40" r="1.30" fill="#5f56dc"/><circle cx="219.30" cy="144.40" r="1.30" fill="#3370ea"/><circle cx="220.80" cy="144.40" r="1.30" fill="#5f56dc"/><circle cx="222.30" cy="144.40" r="1.30" fill="#008bfb"/><circle cx="223.80" cy="144.40" r="1.30" fill="#5f56dc"/><circle cx="225.20" cy="144.40" r="1.30" fill="#008bfb"/><circle cx="226.70" cy="144.40" r="1.30" fill="#008bfb"/><circle cx="228.20" cy="144.40" r="1.30" fill="#5f56dc"/><circle cx="229.70" cy="144.40" r="1.30" fill="#7e3cd0"/><circle cx="231.20" cy="144.40" r="1.30" fill="#cc009c"/><circle cx="232.70" cy="144.40" r="1.30" fill="#ff0055"/><circle cx="234.10" cy="144.40" r="1.30" fill="#cc009c"/><circle cx="235.60" cy="144.40" r="1.30" fill="#7e3cd0"/><circle cx="237.10" cy="144.40" r="1.30" fill="#cc009c"/><circle cx="238.60" cy="144.40" r="1.30" fill="#ff0055"/><circle cx="240.00" cy="144.40" r="1.30" fill="#7e3cd0"/><circle cx="241.50" cy="144.40" r="1.30" fill="#ff0055"/><circle cx="242.90" cy="144.40" r="1.30" fill="#ff0055"/><circle cx="244.40" cy="144.40" r="1.30" fill="#ff0055"/><circle cx="245.90" cy="144.40" r="1.30" fill="#cc009c"/><circle cx="247.40" cy="144.40" r="1.30" fill="#ff0055"/><circle cx="248.90" cy="144.40" r="1.30" fill="#cc009c"/><circle cx="250.30" cy="144.40" r="1.30" fill="#ff0055"/><circle cx="251.80" cy="144.40" r="1.30" fill="#cc009c"/><circle cx="253.30" cy="144.40" r="1.30" fill="#ff0055"/><circle cx="254.80" cy="144.40" r="1.30" fill="#008bfb"/><circle cx="262.70" cy="144.40" r="1.30" fill="#ff0055"/><circle cx="268.60" cy="144.40" r="1.30" fill="#ff0055"/><circle cx="216.70" cy="142.40" r="1.30" fill="#5f56dc"/><circle cx="222.30" cy="142.40" r="1.30" fill="#7e3cd0"/><circle cx="227.20" cy="142.40" r="1.30" fill="#008bfb"/><circle cx="236.60" cy="142.40" r="1.30" fill="#cc009c"/><circle cx="238.10" cy="142.40" r="1.30" fill="#ff0055"/><circle cx="242.40" cy="142.40" r="1.30" fill="#ff0055"/><circle cx="243.90" cy="142.40" r="1.30" fill="#ff0055"/><circle cx="253.80" cy="142.40" r="1.30" fill="#ff0055"/><circle cx="268.60" cy="142.40" r="1.30" fill="#ff0055"/><circle cx="237.60" cy="140.66" r="1.30" fill="#ff0055"/><circle cx="236.60" cy="146.23" r="1.30" fill="#008bfb"/><circle cx="242.70" cy="146.23" r="1.30" fill="#ff0055"/><circle cx="214.50" cy="161.90" r="1.30" fill="#ff0055"/><circle cx="218.90" cy="161.90" r="1.30" fill="#ff0055"/><circle cx="223.60" cy="161.90" r="1.30" fill="#ff0055"/><circle cx="224.80" cy="161.90" r="1.30" fill="#ff0055"/><circle cx="227.80" cy="161.90" r="1.30" fill="#ff0055"/><circle cx="230.70" cy="161.90" r="1.30" fill="#ff0055"/><circle cx="232.60" cy="161.90" r="1.30" fill="#ff0055"/><circle cx="236.20" cy="161.90" r="1.30" fill="#ff0055"/><circle cx="253.30" cy="161.90" r="1.30" fill="#008bfb"/><circle cx="215.30" cy="160.33" r="1.30" fill="#ff0055"/><circle cx="224.20" cy="160.33" r="1.30" fill="#ff0055"/><circle cx="226.60" cy="160.33" r="1.30" fill="#ff0055"/><circle cx="229.60" cy="160.33" r="1.30" fill="#ff0055"/><circle cx="207.50" cy="179.35" r="1.30" fill="#ff0055"/><circle cx="209.20" cy="179.35" r="1.30" fill="#ff0055"/><circle cx="210.70" cy="179.35" r="1.30" fill="#ff0055"/><circle cx="212.50" cy="179.35" r="1.30" fill="#ff0055"/><circle cx="213.90" cy="179.35" r="1.30" fill="#ff0055"/><circle cx="217.30" cy="179.35" r="1.30" fill="#ff0055"/><circle cx="219.20" cy="179.35" r="1.30" fill="#ff0055"/><circle cx="221.10" cy="179.35" r="1.30" fill="#ff0055"/><circle cx="247.40" cy="179.35" r="1.30" fill="#ff0055"/><circle cx="237.10" cy="177.60" r="1.30" fill="#ff0055"/><circle cx="242.60" cy="181.40" r="1.30" fill="#cc009c"/><circle cx="233.70" cy="196.70" r="1.30" fill="#ff0055"/><circle cx="235.40" cy="196.70" r="1.30" fill="#ff0055"/><circle cx="242.50" cy="196.70" r="1.30" fill="#ff0055"/><circle cx="244.30" cy="196.70" r="1.30" fill="#ff0055"/><circle cx="246.10" cy="196.70" r="1.30" fill="#ff0055"/><circle cx="247.90" cy="196.70" r="1.30" fill="#ff0055"/><circle cx="249.60" cy="196.70" r="1.30" fill="#ff0055"/><circle cx="263.20" cy="196.70" r="1.30" fill="#ff0055"/><circle cx="237.40" cy="200.10" r="1.30" fill="#cc009c"/><circle cx="242.20" cy="214.30" r="1.30" fill="#008bfb"/><circle cx="243.90" cy="214.30" r="1.30" fill="#008bfb"/><circle cx="245.60" cy="214.30" r="1.30" fill="#008bfb"/><circle cx="247.20" cy="214.30" r="1.30" fill="#008bfb"/><circle cx="239.40" cy="210.10" r="1.30" fill="#008bfb"/><circle cx="240.20" cy="217.20" r="1.30" fill="#008bfb"/><circle cx="238.60" cy="215.60" r="1.30" fill="#cc009c"/><circle cx="134.90" cy="300.40" r="1.30" fill="#008bfb"/><circle cx="136.40" cy="299.70" r="1.30" fill="#008bfb"/><circle cx="137.90" cy="301.10" r="1.30" fill="#008bfb"/><circle cx="139.40" cy="299.90" r="1.30" fill="#008bfb"/><circle cx="140.90" cy="299.10" r="1.30" fill="#008bfb"/><circle cx="142.10" cy="300.40" r="1.30" fill="#008bfb"/><circle cx="143.30" cy="299.70" r="1.30" fill="#008bfb"/><circle cx="144.80" cy="300.70" r="1.30" fill="#008bfb"/><circle cx="146.30" cy="299.90" r="1.30" fill="#008bfb"/><circle cx="147.80" cy="300.70" r="1.30" fill="#008bfb"/><circle cx="149.30" cy="299.90" r="1.30" fill="#008bfb"/><circle cx="150.70" cy="300.70" r="1.30" fill="#008bfb"/><circle cx="152.20" cy="299.90" r="1.30" fill="#008bfb"/><circle cx="153.70" cy="299.70" r="1.30" fill="#008bfb"/><circle cx="155.20" cy="300.40" r="1.30" fill="#008bfb"/><circle cx="156.70" cy="299.90" r="1.30" fill="#008bfb"/><circle cx="158.10" cy="298.90" r="1.30" fill="#008bfb"/><circle cx="158.90" cy="297.00" r="1.30" fill="#008bfb"/><circle cx="159.60" cy="300.70" r="1.30" fill="#008bfb"/><circle cx="160.10" cy="302.20" r="1.30" fill="#008bfb"/><circle cx="160.60" cy="304.00" r="1.30" fill="#008bfb"/><circle cx="161.60" cy="300.40" r="1.30" fill="#008bfb"/><circle cx="166.80" cy="300.60" r="1.30" fill="#008bfb"/><circle cx="173.60" cy="300.60" r="1.30" fill="#008bfb"/><circle cx="178.80" cy="300.60" r="1.30" fill="#008bfb"/><circle cx="185.30" cy="300.60" r="1.30" fill="#008bfb"/><circle cx="186.90" cy="300.60" r="1.30" fill="#008bfb"/><circle cx="192.70" cy="300.60" r="1.30" fill="#008bfb"/><circle cx="203.30" cy="300.60" r="1.30" fill="#008bfb"/><circle cx="263.30" cy="300.60" r="1.30" fill="#5f56dc"/><circle cx="280.10" cy="300.60" r="1.30" fill="#cc009c"/><circle cx="289.80" cy="300.60" r="1.30" fill="#5f56dc"/><circle cx="291.30" cy="300.60" r="1.30" fill="#5f56dc"/><circle cx="293.30" cy="300.60" r="1.30" fill="#5f56dc"/><circle cx="297.20" cy="300.60" r="1.30" fill="#ff0055"/><circle cx="302.50" cy="300.60" r="1.30" fill="#7e3cd0"/><circle cx="304.00" cy="300.60" r="1.30" fill="#ff0055"/><circle cx="305.40" cy="300.60" r="1.30" fill="#ff0055"/><circle cx="306.90" cy="300.60" r="1.30" fill="#ff0055"/><circle cx="308.40" cy="300.60" r="1.30" fill="#ff0055"/><circle cx="310.10" cy="300.60" r="1.30" fill="#cc009c"/><circle cx="311.60" cy="300.60" r="1.30" fill="#ff0055"/><circle cx="313.30" cy="300.60" r="1.30" fill="#ff0055"/><circle cx="315.00" cy="300.60" r="1.30" fill="#cc009c"/><circle cx="316.90" cy="300.60" r="1.30" fill="#cc009c"/><circle cx="318.40" cy="300.60" r="1.30" fill="#ff0055"/><circle cx="319.90" cy="300.60" r="1.30" fill="#ff0055"/><circle cx="321.40" cy="300.60" r="1.30" fill="#ff0055"/><circle cx="322.90" cy="300.60" r="1.30" fill="#cc009c"/><circle cx="324.30" cy="300.60" r="1.30" fill="#5f56dc"/><circle cx="325.80" cy="300.60" r="1.30" fill="#cc009c"/><circle cx="327.30" cy="300.60" r="1.30" fill="#5f56dc"/><circle cx="328.80" cy="300.60" r="1.30" fill="#ff0055"/><circle cx="330.30" cy="300.60" r="1.30" fill="#5f56dc"/><circle cx="331.60" cy="300.60" r="1.30" fill="#5f56dc"/><circle cx="338.50" cy="300.60" r="1.30" fill="#ff0055"/><circle cx="343.40" cy="300.60" r="1.30" fill="#ff0055"/><circle cx="346.80" cy="300.60" r="1.30" fill="#ff0055"/><circle cx="302.70" cy="298.43" r="1.30" fill="#ff0055"/><circle cx="304.10" cy="298.43" r="1.30" fill="#cc009c"/><circle cx="311.80" cy="298.43" r="1.30" fill="#ff0055"/><circle cx="313.20" cy="298.43" r="1.30" fill="#ff0055"/><circle cx="321.40" cy="298.43" r="1.30" fill="#ff0055"/><circle cx="324.30" cy="298.43" r="1.30" fill="#ff0055"/><circle cx="327.30" cy="298.43" r="1.30" fill="#ff0055"/><circle cx="330.30" cy="298.43" r="1.30" fill="#ff0055"/><circle cx="338.70" cy="298.43" r="1.30" fill="#ff0055"/><circle cx="312.50" cy="296.34" r="1.30" fill="#ff0055"/><circle cx="301.90" cy="302.60" r="1.30" fill="#cc009c"/><circle cx="305.40" cy="302.60" r="1.30" fill="#5f56dc"/><circle cx="311.60" cy="302.60" r="1.30" fill="#cc009c"/><circle cx="312.80" cy="302.60" r="1.30" fill="#ff0055"/><circle cx="321.90" cy="302.60" r="1.30" fill="#ff0055"/><circle cx="330.30" cy="302.60" r="1.30" fill="#ff0055"/><circle cx="170.00" cy="318.10" r="1.30" fill="#7e3cd0"/><circle cx="175.90" cy="318.10" r="1.30" fill="#7e3cd0"/><circle cx="177.10" cy="318.10" r="1.30" fill="#7e3cd0"/><circle cx="180.60" cy="318.10" r="1.30" fill="#7e3cd0"/><circle cx="182.00" cy="318.10" r="1.30" fill="#cc009c"/><circle cx="183.30" cy="318.10" r="1.30" fill="#cc009c"/><circle cx="184.80" cy="318.10" r="1.30" fill="#7e3cd0"/><circle cx="186.20" cy="318.10" r="1.30" fill="#cc009c"/><circle cx="187.70" cy="318.10" r="1.30" fill="#cc009c"/><circle cx="189.20" cy="318.10" r="1.30" fill="#7e3cd0"/><circle cx="190.50" cy="318.10" r="1.30" fill="#cc009c"/><circle cx="197.40" cy="318.10" r="1.30" fill="#ff0055"/><circle cx="199.10" cy="318.10" r="1.30" fill="#ff0055"/><circle cx="200.50" cy="318.10" r="1.30" fill="#ff0055"/><circle cx="205.60" cy="318.10" r="1.30" fill="#7e3cd0"/><circle cx="207.40" cy="318.10" r="1.30" fill="#7e3cd0"/><circle cx="208.90" cy="318.10" r="1.30" fill="#cc009c"/><circle cx="210.40" cy="318.10" r="1.30" fill="#cc009c"/><circle cx="211.90" cy="318.10" r="1.30" fill="#ff0055"/><circle cx="213.30" cy="318.10" r="1.30" fill="#cc009c"/><circle cx="214.80" cy="318.10" r="1.30" fill="#7e3cd0"/><circle cx="216.30" cy="318.10" r="1.30" fill="#cc009c"/><circle cx="217.80" cy="318.10" r="1.30" fill="#7e3cd0"/><circle cx="219.30" cy="318.10" r="1.30" fill="#cc009c"/><circle cx="220.50" cy="318.10" r="1.30" fill="#ff0055"/><circle cx="221.90" cy="318.10" r="1.30" fill="#cc009c"/><circle cx="223.50" cy="318.10" r="1.30" fill="#ff0055"/><circle cx="224.90" cy="318.10" r="1.30" fill="#7e3cd0"/><circle cx="226.50" cy="318.10" r="1.30" fill="#cc009c"/><circle cx="228.10" cy="318.10" r="1.30" fill="#5f56dc"/><circle cx="229.60" cy="318.10" r="1.30" fill="#008bfb"/><circle cx="231.10" cy="318.10" r="1.30" fill="#008bfb"/><circle cx="232.60" cy="318.10" r="1.30" fill="#5f56dc"/><circle cx="234.10" cy="318.10" r="1.30" fill="#008bfb"/><circle cx="235.60" cy="318.10" r="1.30" fill="#008bfb"/><circle cx="237.00" cy="318.10" r="1.30" fill="#008bfb"/><circle cx="238.50" cy="318.10" r="1.30" fill="#008bfb"/><circle cx="240.00" cy="318.10" r="1.30" fill="#008bfb"/><circle cx="243.90" cy="318.10" r="1.30" fill="#008bfb"/><circle cx="245.40" cy="318.10" r="1.30" fill="#008bfb"/><circle cx="246.90" cy="318.10" r="1.30" fill="#3370ea"/><circle cx="248.30" cy="318.10" r="1.30" fill="#008bfb"/><circle cx="249.80" cy="318.10" r="1.30" fill="#008bfb"/><circle cx="250.80" cy="318.10" r="1.30" fill="#cc009c"/><circle cx="252.30" cy="318.10" r="1.30" fill="#008bfb"/><circle cx="253.30" cy="318.10" r="1.30" fill="#008bfb"/><circle cx="267.60" cy="318.10" r="1.30" fill="#008bfb"/><circle cx="186.90" cy="315.23" r="1.30" fill="#cc009c"/><circle cx="188.90" cy="315.23" r="1.30" fill="#5f56dc"/><circle cx="197.10" cy="315.23" r="1.30" fill="#cc009c"/><circle cx="205.80" cy="315.23" r="1.30" fill="#ff0055"/><circle cx="211.70" cy="315.23" r="1.30" fill="#cc009c"/><circle cx="213.80" cy="315.23" r="1.30" fill="#cc009c"/><circle cx="217.80" cy="315.23" r="1.30" fill="#cc009c"/><circle cx="219.30" cy="315.23" r="1.30" fill="#7e3cd0"/><circle cx="220.70" cy="315.23" r="1.30" fill="#cc009c"/><circle cx="224.50" cy="315.23" r="1.30" fill="#ff0055"/><circle cx="229.10" cy="315.23" r="1.30" fill="#cc009c"/><circle cx="230.60" cy="315.23" r="1.30" fill="#7e3cd0"/><circle cx="232.60" cy="315.23" r="1.30" fill="#5f56dc"/><circle cx="247.40" cy="315.23" r="1.30" fill="#7e3cd0"/><circle cx="251.00" cy="315.23" r="1.30" fill="#7e3cd0"/><circle cx="188.90" cy="320.80" r="1.30" fill="#cc009c"/><circle cx="197.80" cy="320.80" r="1.30" fill="#cc009c"/><circle cx="206.20" cy="320.80" r="1.30" fill="#ff0055"/><circle cx="224.90" cy="320.80" r="1.30" fill="#7e3cd0"/><circle cx="247.90" cy="320.80" r="1.30" fill="#008bfb"/><circle cx="175.50" cy="335.40" r="1.30" fill="#008bfb"/><circle cx="180.90" cy="335.40" r="1.30" fill="#008bfb"/><circle cx="182.40" cy="335.40" r="1.30" fill="#008bfb"/><circle cx="185.30" cy="335.40" r="1.30" fill="#008bfb"/><circle cx="190.30" cy="335.40" r="1.30" fill="#008bfb"/><circle cx="194.20" cy="335.40" r="1.30" fill="#008bfb"/><circle cx="195.70" cy="335.40" r="1.30" fill="#008bfb"/><circle cx="197.20" cy="335.40" r="1.30" fill="#008bfb"/><circle cx="200.60" cy="335.40" r="1.30" fill="#008bfb"/><circle cx="204.60" cy="335.40" r="1.30" fill="#008bfb"/><circle cx="206.30" cy="335.40" r="1.30" fill="#008bfb"/><circle cx="208.00" cy="335.40" r="1.30" fill="#008bfb"/><circle cx="209.50" cy="335.40" r="1.30" fill="#008bfb"/><circle cx="210.90" cy="335.40" r="1.30" fill="#008bfb"/><circle cx="212.40" cy="335.40" r="1.30" fill="#008bfb"/><circle cx="213.90" cy="335.40" r="1.30" fill="#008bfb"/><circle cx="215.40" cy="335.40" r="1.30" fill="#7e3cd0"/><circle cx="216.90" cy="335.40" r="1.30" fill="#008bfb"/><circle cx="218.30" cy="335.40" r="1.30" fill="#008bfb"/><circle cx="219.80" cy="335.40" r="1.30" fill="#5f56dc"/><circle cx="221.30" cy="335.40" r="1.30" fill="#008bfb"/><circle cx="222.80" cy="335.40" r="1.30" fill="#3370ea"/><circle cx="224.30" cy="335.40" r="1.30" fill="#5f56dc"/><circle cx="225.80" cy="335.40" r="1.30" fill="#7e3cd0"/><circle cx="227.20" cy="335.40" r="1.30" fill="#7e3cd0"/><circle cx="228.70" cy="335.40" r="1.30" fill="#5f56dc"/><circle cx="230.20" cy="335.40" r="1.30" fill="#7e3cd0"/><circle cx="231.70" cy="335.40" r="1.30" fill="#008bfb"/><circle cx="233.20" cy="335.40" r="1.30" fill="#008bfb"/><circle cx="234.60" cy="335.40" r="1.30" fill="#008bfb"/><circle cx="239.60" cy="335.40" r="1.30" fill="#7e3cd0"/><circle cx="241.10" cy="335.40" r="1.30" fill="#7e3cd0"/><circle cx="242.50" cy="335.40" r="1.30" fill="#7e3cd0"/><circle cx="245.60" cy="335.40" r="1.30" fill="#ff0055"/><circle cx="257.80" cy="335.40" r="1.30" fill="#7e3cd0"/><circle cx="259.30" cy="335.40" r="1.30" fill="#cc009c"/><circle cx="261.80" cy="335.40" r="1.30" fill="#ff0055"/><circle cx="264.70" cy="335.40" r="1.30" fill="#7e3cd0"/><circle cx="288.80" cy="335.40" r="1.30" fill="#ff0055"/><circle cx="301.20" cy="335.40" r="1.30" fill="#7e3cd0"/><circle cx="314.50" cy="335.40" r="1.30" fill="#ff0055"/><circle cx="184.80" cy="333.40" r="1.30" fill="#008bfb"/><circle cx="208.00" cy="333.40" r="1.30" fill="#008bfb"/><circle cx="212.40" cy="333.40" r="1.30" fill="#008bfb"/><circle cx="215.40" cy="333.40" r="1.30" fill="#008bfb"/><circle cx="216.90" cy="333.40" r="1.30" fill="#008bfb"/><circle cx="219.80" cy="333.40" r="1.30" fill="#008bfb"/><circle cx="221.30" cy="333.40" r="1.30" fill="#008bfb"/><circle cx="224.80" cy="333.40" r="1.30" fill="#008bfb"/><circle cx="226.20" cy="333.40" r="1.30" fill="#008bfb"/><circle cx="227.70" cy="333.40" r="1.30" fill="#7e3cd0"/><circle cx="229.70" cy="333.40" r="1.30" fill="#cc009c"/><circle cx="261.80" cy="333.40" r="1.30" fill="#cc009c"/><circle cx="225.30" cy="331.22" r="1.30" fill="#008bfb"/><circle cx="226.70" cy="331.22" r="1.30" fill="#008bfb"/><circle cx="229.20" cy="331.22" r="1.30" fill="#7e3cd0"/><circle cx="207.50" cy="337.40" r="1.30" fill="#008bfb"/><circle cx="215.90" cy="337.40" r="1.30" fill="#008bfb"/><circle cx="219.80" cy="337.40" r="1.30" fill="#008bfb"/><circle cx="225.80" cy="337.40" r="1.30" fill="#5f56dc"/><circle cx="227.20" cy="337.40" r="1.30" fill="#5f56dc"/><circle cx="229.20" cy="337.40" r="1.30" fill="#7e3cd0"/><circle cx="225.30" cy="339.40" r="1.30" fill="#5f56dc"/><circle cx="227.20" cy="339.40" r="1.30" fill="#5f56dc"/><circle cx="229.70" cy="339.40" r="1.30" fill="#7e3cd0"/><circle cx="187.00" cy="352.40" r="1.30" fill="#ff0055"/><circle cx="192.40" cy="352.40" r="1.30" fill="#ff0055"/><circle cx="195.90" cy="352.40" r="1.30" fill="#ff0055"/><circle cx="200.80" cy="352.40" r="1.30" fill="#ff0055"/><circle cx="202.30" cy="352.40" r="1.30" fill="#ff0055"/><circle cx="203.80" cy="352.40" r="1.30" fill="#008bfb"/><circle cx="205.20" cy="352.40" r="1.30" fill="#008bfb"/><circle cx="206.70" cy="352.40" r="1.30" fill="#cc009c"/><circle cx="208.20" cy="352.40" r="1.30" fill="#ff0055"/><circle cx="209.70" cy="352.40" r="1.30" fill="#cc009c"/><circle cx="211.20" cy="352.40" r="1.30" fill="#008bfb"/><circle cx="212.60" cy="352.40" r="1.30" fill="#008bfb"/><circle cx="214.10" cy="352.40" r="1.30" fill="#008bfb"/><circle cx="215.60" cy="352.40" r="1.30" fill="#008bfb"/><circle cx="217.10" cy="352.40" r="1.30" fill="#5f56dc"/><circle cx="218.60" cy="352.40" r="1.30" fill="#7e3cd0"/><circle cx="220.00" cy="352.40" r="1.30" fill="#cc009c"/><circle cx="221.50" cy="352.40" r="1.30" fill="#ff0055"/><circle cx="223.00" cy="352.40" r="1.30" fill="#7e3cd0"/><circle cx="224.90" cy="352.40" r="1.30" fill="#7e3cd0"/><circle cx="226.40" cy="352.40" r="1.30" fill="#ff0055"/><circle cx="227.90" cy="352.40" r="1.30" fill="#5f56dc"/><circle cx="229.40" cy="352.40" r="1.30" fill="#7e3cd0"/><circle cx="230.90" cy="352.40" r="1.30" fill="#008bfb"/><circle cx="232.30" cy="352.40" r="1.30" fill="#cc009c"/><circle cx="233.80" cy="352.40" r="1.30" fill="#7e3cd0"/><circle cx="235.30" cy="352.40" r="1.30" fill="#cc009c"/><circle cx="236.80" cy="352.40" r="1.30" fill="#ff0055"/><circle cx="238.30" cy="352.40" r="1.30" fill="#5f56dc"/><circle cx="239.80" cy="352.40" r="1.30" fill="#ff0055"/><circle cx="241.20" cy="352.40" r="1.30" fill="#cc009c"/><circle cx="242.70" cy="352.40" r="1.30" fill="#ff0055"/><circle cx="244.20" cy="352.40" r="1.30" fill="#7e3cd0"/><circle cx="245.70" cy="352.40" r="1.30" fill="#ff0055"/><circle cx="247.20" cy="352.40" r="1.30" fill="#ff0055"/><circle cx="258.50" cy="352.40" r="1.30" fill="#ff0055"/><circle cx="273.50" cy="352.40" r="1.30" fill="#ff0055"/><circle cx="206.50" cy="350.40" r="1.30" fill="#ff0055"/><circle cx="207.90" cy="350.40" r="1.30" fill="#ff0055"/><circle cx="209.20" cy="350.40" r="1.30" fill="#ff0055"/><circle cx="220.50" cy="350.40" r="1.30" fill="#ff0055"/><circle cx="227.40" cy="350.40" r="1.30" fill="#ff0055"/><circle cx="228.90" cy="350.40" r="1.30" fill="#5f56dc"/><circle cx="232.30" cy="350.40" r="1.30" fill="#7e3cd0"/><circle cx="237.30" cy="350.40" r="1.30" fill="#5f56dc"/><circle cx="238.80" cy="350.40" r="1.30" fill="#008bfb"/><circle cx="241.20" cy="350.40" r="1.30" fill="#008bfb"/><circle cx="245.70" cy="350.40" r="1.30" fill="#008bfb"/><circle cx="227.40" cy="348.40" r="1.30" fill="#cc009c"/><circle cx="221.50" cy="354.40" r="1.30" fill="#ff0055"/><circle cx="227.40" cy="354.40" r="1.30" fill="#ff0055"/><circle cx="229.90" cy="354.40" r="1.30" fill="#ff0055"/><circle cx="238.80" cy="354.40" r="1.30" fill="#008bfb"/><circle cx="247.20" cy="354.40" r="1.30" fill="#ff0055"/><circle cx="182.90" cy="369.70" r="1.30" fill="#008bfb"/><circle cx="184.40" cy="369.70" r="1.30" fill="#008bfb"/><circle cx="185.90" cy="369.70" r="1.30" fill="#008bfb"/><circle cx="189.40" cy="369.70" r="1.30" fill="#008bfb"/><circle cx="190.80" cy="369.70" r="1.30" fill="#008bfb"/><circle cx="192.30" cy="369.70" r="1.30" fill="#008bfb"/><circle cx="196.80" cy="369.70" r="1.30" fill="#008bfb"/><circle cx="198.20" cy="369.70" r="1.30" fill="#008bfb"/><circle cx="199.70" cy="369.70" r="1.30" fill="#008bfb"/><circle cx="201.20" cy="369.70" r="1.30" fill="#008bfb"/><circle cx="205.70" cy="369.70" r="1.30" fill="#008bfb"/><circle cx="207.10" cy="369.70" r="1.30" fill="#008bfb"/><circle cx="208.60" cy="369.70" r="1.30" fill="#008bfb"/><circle cx="210.10" cy="369.70" r="1.30" fill="#008bfb"/><circle cx="211.60" cy="369.70" r="1.30" fill="#008bfb"/><circle cx="213.10" cy="369.70" r="1.30" fill="#008bfb"/><circle cx="214.50" cy="369.70" r="1.30" fill="#5f56dc"/><circle cx="216.00" cy="369.70" r="1.30" fill="#008bfb"/><circle cx="217.50" cy="369.70" r="1.30" fill="#008bfb"/><circle cx="218.90" cy="369.70" r="1.30" fill="#008bfb"/><circle cx="220.40" cy="369.70" r="1.30" fill="#008bfb"/><circle cx="221.90" cy="369.70" r="1.30" fill="#008bfb"/><circle cx="223.40" cy="369.70" r="1.30" fill="#7e3cd0"/><circle cx="224.90" cy="369.70" r="1.30" fill="#008bfb"/><circle cx="226.30" cy="369.70" r="1.30" fill="#008bfb"/><circle cx="227.80" cy="369.70" r="1.30" fill="#5f56dc"/><circle cx="229.30" cy="369.70" r="1.30" fill="#008bfb"/><circle cx="230.80" cy="369.70" r="1.30" fill="#cc009c"/><circle cx="232.30" cy="369.70" r="1.30" fill="#7e3cd0"/><circle cx="233.80" cy="369.70" r="1.30" fill="#008bfb"/><circle cx="235.20" cy="369.70" r="1.30" fill="#7e3cd0"/><circle cx="236.70" cy="369.70" r="1.30" fill="#cc009c"/><circle cx="238.20" cy="369.70" r="1.30" fill="#7e3cd0"/><circle cx="239.70" cy="369.70" r="1.30" fill="#7e3cd0"/><circle cx="241.20" cy="369.70" r="1.30" fill="#cc009c"/><circle cx="243.60" cy="369.70" r="1.30" fill="#ff0055"/><circle cx="248.10" cy="369.70" r="1.30" fill="#7e3cd0"/><circle cx="198.20" cy="367.53" r="1.30" fill="#008bfb"/><circle cx="211.60" cy="367.53" r="1.30" fill="#008bfb"/><circle cx="213.10" cy="367.53" r="1.30" fill="#008bfb"/><circle cx="214.50" cy="367.53" r="1.30" fill="#5f56dc"/><circle cx="217.00" cy="367.53" r="1.30" fill="#ff0055"/><circle cx="221.90" cy="367.53" r="1.30" fill="#008bfb"/><circle cx="223.40" cy="367.53" r="1.30" fill="#008bfb"/><circle cx="224.90" cy="367.53" r="1.30" fill="#ff0055"/><circle cx="226.30" cy="367.53" r="1.30" fill="#008bfb"/><circle cx="227.80" cy="367.53" r="1.30" fill="#008bfb"/><circle cx="229.30" cy="367.53" r="1.30" fill="#7e3cd0"/><circle cx="230.80" cy="367.53" r="1.30" fill="#008bfb"/><circle cx="232.30" cy="367.53" r="1.30" fill="#7e3cd0"/><circle cx="234.70" cy="367.53" r="1.30" fill="#7e3cd0"/><circle cx="235.70" cy="367.53" r="1.30" fill="#7e3cd0"/><circle cx="224.90" cy="365.44" r="1.30" fill="#ff0055"/><circle cx="226.30" cy="365.44" r="1.30" fill="#ff0055"/><circle cx="230.30" cy="365.44" r="1.30" fill="#7e3cd0"/><circle cx="225.40" cy="371.70" r="1.30" fill="#ff0055"/><circle cx="227.30" cy="371.70" r="1.30" fill="#008bfb"/><circle cx="228.80" cy="371.70" r="1.30" fill="#008bfb"/><circle cx="230.30" cy="371.70" r="1.30" fill="#008bfb"/><circle cx="203.50" cy="386.90" r="1.30" fill="#7e3cd0"/><circle cx="204.90" cy="386.90" r="1.30" fill="#008bfb"/><circle cx="206.40" cy="386.90" r="1.30" fill="#ff0055"/><circle cx="207.90" cy="386.90" r="1.30" fill="#7e3cd0"/><circle cx="209.40" cy="386.90" r="1.30" fill="#008bfb"/><circle cx="210.90" cy="386.90" r="1.30" fill="#008bfb"/><circle cx="212.30" cy="386.90" r="1.30" fill="#008bfb"/><circle cx="213.80" cy="386.90" r="1.30" fill="#008bfb"/><circle cx="215.30" cy="386.90" r="1.30" fill="#008bfb"/><circle cx="216.80" cy="386.90" r="1.30" fill="#ff0055"/><circle cx="218.30" cy="386.90" r="1.30" fill="#008bfb"/><circle cx="219.80" cy="386.90" r="1.30" fill="#008bfb"/><circle cx="221.20" cy="386.90" r="1.30" fill="#ff0055"/><circle cx="222.70" cy="386.90" r="1.30" fill="#008bfb"/><circle cx="224.20" cy="386.90" r="1.30" fill="#5f56dc"/><circle cx="225.70" cy="386.90" r="1.30" fill="#008bfb"/><circle cx="227.20" cy="386.90" r="1.30" fill="#5f56dc"/><circle cx="228.60" cy="386.90" r="1.30" fill="#008bfb"/><circle cx="230.10" cy="386.90" r="1.30" fill="#5f56dc"/><circle cx="231.60" cy="386.90" r="1.30" fill="#008bfb"/><circle cx="233.10" cy="386.90" r="1.30" fill="#5f56dc"/><circle cx="234.60" cy="386.90" r="1.30" fill="#008bfb"/><circle cx="236.00" cy="386.90" r="1.30" fill="#5f56dc"/><circle cx="237.50" cy="386.90" r="1.30" fill="#008bfb"/><circle cx="239.00" cy="386.90" r="1.30" fill="#cc009c"/><circle cx="240.90" cy="386.90" r="1.30" fill="#008bfb"/><circle cx="242.40" cy="386.90" r="1.30" fill="#008bfb"/><circle cx="243.90" cy="386.90" r="1.30" fill="#008bfb"/><circle cx="245.40" cy="386.90" r="1.30" fill="#008bfb"/><circle cx="246.90" cy="386.90" r="1.30" fill="#008bfb"/><circle cx="248.30" cy="386.90" r="1.30" fill="#008bfb"/><circle cx="250.80" cy="386.90" r="1.30" fill="#008bfb"/><circle cx="207.70" cy="384.99" r="1.30" fill="#008bfb"/><circle cx="216.80" cy="384.99" r="1.30" fill="#ff0055"/><circle cx="220.20" cy="384.99" r="1.30" fill="#008bfb"/><circle cx="224.20" cy="384.99" r="1.30" fill="#ff0055"/><circle cx="225.90" cy="384.99" r="1.30" fill="#008bfb"/><circle cx="228.10" cy="384.99" r="1.30" fill="#008bfb"/><circle cx="229.60" cy="384.99" r="1.30" fill="#008bfb"/><circle cx="232.60" cy="384.99" r="1.30" fill="#ff0055"/><circle cx="234.10" cy="384.99" r="1.30" fill="#008bfb"/><circle cx="236.50" cy="384.99" r="1.30" fill="#008bfb"/><circle cx="243.40" cy="384.99" r="1.30" fill="#008bfb"/><circle cx="245.40" cy="384.99" r="1.30" fill="#008bfb"/><circle cx="232.60" cy="382.98" r="1.30" fill="#008bfb"/><circle cx="228.10" cy="388.81" r="1.30" fill="#008bfb"/><circle cx="232.60" cy="388.81" r="1.30" fill="#ff0055"/><circle cx="198.00" cy="404.10" r="1.30" fill="#7e3cd0"/><circle cx="199.40" cy="404.10" r="1.30" fill="#7e3cd0"/><circle cx="200.90" cy="404.10" r="1.30" fill="#008bfb"/><circle cx="202.40" cy="404.10" r="1.30" fill="#5f56dc"/><circle cx="203.90" cy="404.10" r="1.30" fill="#7e3cd0"/><circle cx="205.40" cy="404.10" r="1.30" fill="#7e3cd0"/><circle cx="206.80" cy="404.10" r="1.30" fill="#5f56dc"/><circle cx="208.30" cy="404.10" r="1.30" fill="#cc009c"/><circle cx="209.80" cy="404.10" r="1.30" fill="#7e3cd0"/><circle cx="211.30" cy="404.10" r="1.30" fill="#5f56dc"/><circle cx="212.80" cy="404.10" r="1.30" fill="#008bfb"/><circle cx="214.20" cy="404.10" r="1.30" fill="#7e3cd0"/><circle cx="215.70" cy="404.10" r="1.30" fill="#7e3cd0"/><circle cx="217.20" cy="404.10" r="1.30" fill="#5f56dc"/><circle cx="218.70" cy="404.10" r="1.30" fill="#7e3cd0"/><circle cx="220.20" cy="404.10" r="1.30" fill="#5f56dc"/><circle cx="221.70" cy="404.10" r="1.30" fill="#008bfb"/><circle cx="223.10" cy="404.10" r="1.30" fill="#cc009c"/><circle cx="224.60" cy="404.10" r="1.30" fill="#008bfb"/><circle cx="226.10" cy="404.10" r="1.30" fill="#008bfb"/><circle cx="227.60" cy="404.10" r="1.30" fill="#ff0055"/><circle cx="229.10" cy="404.10" r="1.30" fill="#cc009c"/><circle cx="230.50" cy="404.10" r="1.30" fill="#ff0055"/><circle cx="232.00" cy="404.10" r="1.30" fill="#008bfb"/><circle cx="233.40" cy="404.10" r="1.30" fill="#008bfb"/><circle cx="234.90" cy="404.10" r="1.30" fill="#008bfb"/><circle cx="236.40" cy="404.10" r="1.30" fill="#008bfb"/><circle cx="237.40" cy="404.10" r="1.30" fill="#008bfb"/><circle cx="239.70" cy="404.10" r="1.30" fill="#ff0055"/><circle cx="243.30" cy="404.10" r="1.30" fill="#ff0055"/><circle cx="257.10" cy="404.10" r="1.30" fill="#ff0055"/><circle cx="270.10" cy="404.10" r="1.30" fill="#ff0055"/><circle cx="275.60" cy="404.10" r="1.30" fill="#ff0055"/><circle cx="203.90" cy="402.01" r="1.30" fill="#008bfb"/><circle cx="205.40" cy="402.01" r="1.30" fill="#008bfb"/><circle cx="206.80" cy="402.01" r="1.30" fill="#008bfb"/><circle cx="208.30" cy="402.01" r="1.30" fill="#5f56dc"/><circle cx="209.80" cy="402.01" r="1.30" fill="#008bfb"/><circle cx="211.30" cy="402.01" r="1.30" fill="#008bfb"/><circle cx="217.70" cy="402.01" r="1.30" fill="#cc009c"/><circle cx="219.70" cy="402.01" r="1.30" fill="#5f56dc"/><circle cx="222.10" cy="402.01" r="1.30" fill="#ff0055"/><circle cx="223.60" cy="402.01" r="1.30" fill="#ff0055"/><circle cx="226.10" cy="402.01" r="1.30" fill="#008bfb"/><circle cx="228.60" cy="402.01" r="1.30" fill="#ff0055"/><circle cx="229.60" cy="402.01" r="1.30" fill="#008bfb"/><circle cx="236.40" cy="402.01" r="1.30" fill="#008bfb"/><circle cx="223.60" cy="400.01" r="1.30" fill="#ff0055"/><circle cx="229.10" cy="400.01" r="1.30" fill="#008bfb"/><circle cx="203.90" cy="406.10" r="1.30" fill="#5f56dc"/><circle cx="209.30" cy="406.10" r="1.30" fill="#008bfb"/><circle cx="218.70" cy="406.10" r="1.30" fill="#7e3cd0"/><circle cx="223.60" cy="406.10" r="1.30" fill="#008bfb"/><circle cx="226.60" cy="406.10" r="1.30" fill="#008bfb"/><circle cx="229.10" cy="406.10" r="1.30" fill="#ff0055"/><circle cx="236.40" cy="406.10" r="1.30" fill="#ff0055"/><circle cx="229.10" cy="407.93" r="1.30" fill="#ff0055"/><circle cx="207.50" cy="421.30" r="1.30" fill="#008bfb"/><circle cx="208.70" cy="421.30" r="1.30" fill="#008bfb"/><circle cx="209.90" cy="421.30" r="1.30" fill="#008bfb"/><circle cx="211.20" cy="421.30" r="1.30" fill="#008bfb"/><circle cx="212.40" cy="421.30" r="1.30" fill="#008bfb"/><circle cx="220.40" cy="421.30" r="1.30" fill="#ff0055"/><circle cx="224.80" cy="421.30" r="1.30" fill="#ff0055"/><circle cx="226.00" cy="421.30" r="1.30" fill="#ff0055"/><circle cx="227.20" cy="421.30" r="1.30" fill="#ff0055"/><circle cx="229.10" cy="421.30" r="1.30" fill="#ff0055"/><circle cx="230.30" cy="421.30" r="1.30" fill="#ff0055"/><circle cx="232.20" cy="421.30" r="1.30" fill="#ff0055"/><circle cx="235.90" cy="421.30" r="1.30" fill="#ff0055"/><circle cx="237.10" cy="421.30" r="1.30" fill="#ff0055"/><circle cx="239.00" cy="421.30" r="1.30" fill="#ff0055"/><circle cx="240.80" cy="421.30" r="1.30" fill="#ff0055"/><circle cx="242.70" cy="421.30" r="1.30" fill="#ff0055"/><circle cx="245.10" cy="421.30" r="1.30" fill="#ff0055"/><circle cx="246.40" cy="421.30" r="1.30" fill="#ff0055"/><circle cx="253.80" cy="421.30" r="1.30" fill="#ff0055"/><circle cx="213.20" cy="419.91" r="1.30" fill="#008bfb"/><circle cx="229.10" cy="419.91" r="1.30" fill="#ff0055"/><circle cx="239.00" cy="419.91" r="1.30" fill="#ff0055"/><circle cx="193.20" cy="438.70" r="1.30" fill="#ff0055"/><circle cx="194.80" cy="438.70" r="1.30" fill="#ff0055"/><circle cx="197.90" cy="438.70" r="1.30" fill="#ff0055"/><circle cx="205.30" cy="438.70" r="1.30" fill="#ff0055"/><circle cx="206.60" cy="438.70" r="1.30" fill="#ff0055"/><circle cx="210.20" cy="438.70" r="1.30" fill="#ff0055"/><circle cx="211.70" cy="438.70" r="1.30" fill="#ff0055"/><circle cx="227.80" cy="438.70" r="1.30" fill="#ff0055"/><circle cx="205.90" cy="437.31" r="1.30" fill="#ff0055"/><circle cx="226.50" cy="442.00" r="1.30" fill="#ff0055"/><circle cx="226.10" cy="455.82" r="1.30" fill="#ff0055"/><circle cx="227.60" cy="455.82" r="1.30" fill="#ff0055"/><circle cx="229.10" cy="455.82" r="1.30" fill="#ff0055"/><circle cx="239.10" cy="455.82" r="1.30" fill="#ff0055"/><circle cx="222.90" cy="473.40" r="1.30" fill="#008bfb"/><circle cx="221.00" cy="490.60" r="1.30" fill="#cc009c"/></g>
</svg>
</body></html>
